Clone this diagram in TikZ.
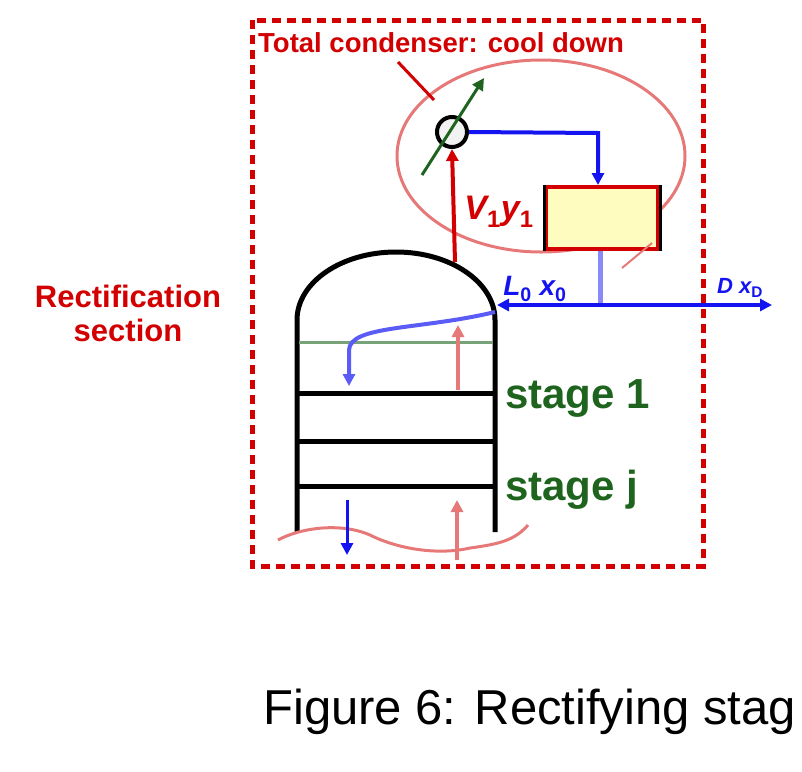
\documentclass[tikz,border=0pt]{standalone}
\usepackage{fontspec}
\setmainfont{Liberation Sans}
\usetikzlibrary{arrows.meta}
\definecolor{dred}{RGB}{210,0,0}
\definecolor{lred}{RGB}{230,120,120}
\definecolor{dgreen}{RGB}{30,100,30}
\definecolor{blu}{RGB}{20,20,240}
\begin{document}
\begin{tikzpicture}[x=1pt,y=-1pt,
  lab/.style={inner sep=0},
  wall/.style={line width=5pt,black},
  tip/.style={-{Triangle[length=12pt,width=12pt]}}]
\useasboundingbox (0,0) rectangle (802,771);
\draw[dred,line width=5pt,dash pattern=on 9pt off 6pt] (252,20) rectangle (703,566);
\node[lab,text=dred,anchor=west,font=\bfseries\fontsize{27.5}{30}\selectfont] (tc) at (258,43) {Total condenser: cool down};
\node[lab,text=dred,align=center,font=\bfseries\fontsize{31}{34}\selectfont] (rs) at (128,313) {Rectification\\section};
% ellipse
\draw[lred,line width=3pt] (541,156) ellipse [x radius=144,y radius=96];
\coordinate (l1) at (398,62); \coordinate (l2) at (434,100);
\draw[dred,line width=3pt] (l1) -- (l2);
% condenser
\node[draw,circle,line width=4pt,minimum size=30pt,fill=gray!10] (cond) at (452,132) {};
\coordinate (g1) at (422,175); \coordinate (g2) at (484,78);
\draw[dgreen,line width=3pt,tip] (g1) -- (g2);
% drum
\node[draw=dred,line width=4pt,fill=yellow!25,minimum width=112pt,minimum height=62pt,inner sep=0] (drum) at (602,218) {};
\draw[black,line width=3pt] (drum.north west) -- (drum.south west) (drum.north east) -- (drum.south east);
\draw[lred,line width=2pt] (drum.south east)++(-8,-8) -- ++(-30,25);
\draw[blu,line width=4pt,tip] (cond.east) -- (598,133) -- (drum.north -| 598,0);
% column
\draw[wall] (297,532) -- (297,320) arc[start angle=180,end angle=360,x radius=99,y radius=68] -- (495,532);
\foreach \y in {393,441,486} \draw[wall] (297,\y) -- (495,\y);
\draw[dgreen!60,line width=3pt] (299,342) -- (493,342);
% vapour to condenser
\draw[dred,line width=4pt,tip] (455,262) -- (cond.south);
\node[lab,text=dred,font=\bfseries\itshape\fontsize{34}{36}\selectfont] (vy) at (499,212) {V$_{\mathbf 1}$y$_{\mathbf 1}$};
% drum outlet
\coordinate (dj) at (600,305);
\draw[blu!50,line width=5pt] (drum.south -| 600,0) -- (dj);
\coordinate (dd) at (772,305);
\draw[blu,line width=4pt,{Triangle[length=12pt,width=12pt]}-{Triangle[length=12pt,width=12pt]}] (497,305) -- (dd);
\node[lab,text=blu,font=\bfseries\itshape\fontsize{28}{30}\selectfont] (lx) at (535,289) {L$_{\mathbf 0}$ x$_{\mathbf 0}$};
\node[lab,text=blu,font=\bfseries\itshape\fontsize{22}{24}\selectfont] (dx) at (740,288) {D x$_{\mathbf D}$};
% liquid into stage 1
\draw[blu!70,line width=4pt,tip] (495,312) .. controls (420,330) and (350,325) .. (349,350) -- (349,386);
\draw[lred,line width=4pt,tip] (458,390) -- (458,325);
\node[lab,text=dgreen,font=\bfseries\fontsize{42}{44}\selectfont,anchor=west] (s1) at (505,398) {stage 1};
\node[lab,text=dgreen,font=\bfseries\fontsize{42}{44}\selectfont,anchor=west] (sj) at (505,490) {stage j};
% bottom
\draw[lred,line width=3pt] (278,540) .. controls (300,528) and (340,522) .. (370,535) .. controls (400,550) and (440,555) .. (470,548) .. controls (500,544) and (515,540) .. (528,525);
\draw[blu,line width=3pt,tip] (347,500) -- (347,555);
\draw[lred,line width=4pt,tip] (457,560) -- (457,500);
\node[font=\fontsize{49}{53}\selectfont,anchor=west,inner sep=0] (cap) at (263,712) {Figure 6: Rectifying stag};
\end{tikzpicture}
\end{document}
